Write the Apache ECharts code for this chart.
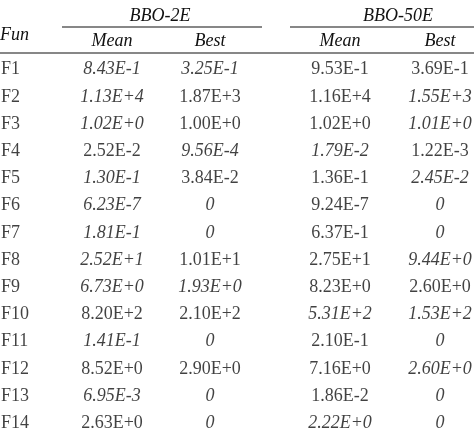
<!DOCTYPE html>
<html><head><meta charset="utf-8">
<script src="https://cdn.jsdelivr.net/npm/echarts@6/dist/echarts.min.js"></script>
<style>html,body{margin:0;padding:0;background:#fff}#c{width:474px;height:438px}</style>
</head><body><div id="c"></div>
<script>
const functions = ['F1','F2','F3','F4','F5','F6','F7','F8','F9','F10','F11','F12','F13','F14'];
const groups = ['BBO-2E','BBO-50E'];
const subHeaders = ['Mean','Best','Mean','Best'];
const mean2E = ['8.43E-1','1.13E+4','1.02E+0','2.52E-2','1.30E-1','6.23E-7','1.81E-1','2.52E+1','6.73E+0','8.20E+2','1.41E-1','8.52E+0','6.95E-3','2.63E+0'];
const best2E = ['3.25E-1','1.87E+3','1.00E+0','9.56E-4','3.84E-2','0','0','1.01E+1','1.93E+0','2.10E+2','0','2.90E+0','0','0'];
const mean50E = ['9.53E-1','1.16E+4','1.02E+0','1.79E-2','1.36E-1','9.24E-7','6.37E-1','2.75E+1','8.23E+0','5.31E+2','2.10E-1','7.16E+0','1.86E-2','2.22E+0'];
const best50E = ['3.69E-1','1.55E+3','1.01E+0','1.22E-3','2.45E-2','0','0','9.44E+0','2.60E+0','1.53E+2','0','2.60E+0','0','0'];
// 1 = italic (best-marked) cell
const italic2EMean = [1,1,1,0,1,1,1,1,1,0,1,0,1,0];
const italic2EBest = [1,0,0,1,0,1,1,0,1,0,1,0,1,1];
const italic50EMean = [0,0,0,1,0,0,0,0,0,1,0,0,0,1];
const italic50EBest = [0,1,1,0,1,1,1,1,0,1,1,1,1,1];

const colX = [112, 210, 340, 440];
const cols = [[mean2E, italic2EMean],[best2E, italic2EBest],[mean50E, italic50EMean],[best50E, italic50EBest]];
const font = '"Liberation Serif", "DejaVu Serif", serif';
const data = [];
functions.forEach((f,i)=>{
  data.push({value:[1, f], label:{align:'left', fontStyle:'normal'}});
  cols.forEach((c,j)=>{
    data.push({value:[colX[j], f], label:{formatter:c[0][i], fontStyle:c[1][i]?'italic':'normal'}});
  });
});
const chart = echarts.init(document.getElementById('c'));
chart.setOption({
  animation:false,
  grid:{left:0,right:0,top:56,bottom:1},
  xAxis:{type:'value',min:0,max:474,show:false},
  yAxis:{type:'category',data:functions,inverse:true,show:false},
  series:[{type:'scatter',symbolSize:0,data:data,
    label:{show:true,position:'inside',color:'#111',fontSize:18,fontFamily:font,
      formatter:p=>p.value[1]}}],
  graphic:[
    {type:'text',left:0,top:26,style:{text:'Fun',font:'italic 18px '+font,fill:'#111'}},
    {type:'text',x:160,y:16,style:{text:groups[0],font:'italic 18px '+font,fill:'#111',align:'center',verticalAlign:'middle'}},
    {type:'text',x:398,y:16,style:{text:groups[1],font:'italic 18px '+font,fill:'#111',align:'center',verticalAlign:'middle'}},
    ...subHeaders.map((s,j)=>({type:'text',x:colX[j],y:41,style:{text:s,font:'italic 18px '+font,fill:'#111',align:'center',verticalAlign:'middle'}})),
    {type:'line',shape:{x1:62,y1:27,x2:262,y2:27},style:{stroke:'#111',lineWidth:1.2}},
    {type:'line',shape:{x1:290,y1:27,x2:474,y2:27},style:{stroke:'#111',lineWidth:1.2}},
    {type:'line',shape:{x1:0,y1:53,x2:474,y2:53},style:{stroke:'#111',lineWidth:1.2}}
  ]
});
</script></body></html>
